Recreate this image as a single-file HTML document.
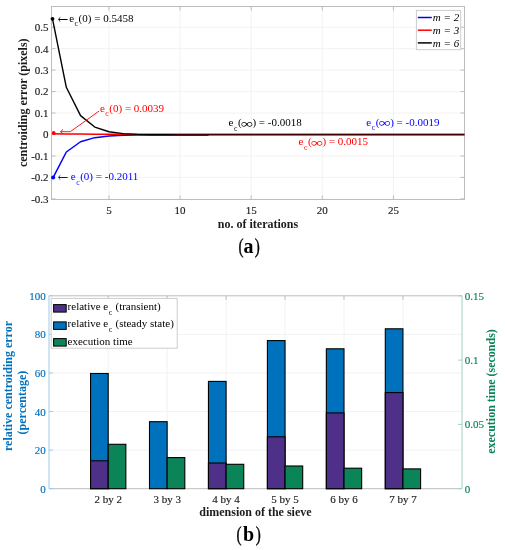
<!DOCTYPE html>
<html lang="en">
<head>
<meta charset="utf-8">
<title>Figure</title>
<style>
html,body{margin:0;padding:0;background:#fff;}
body{width:505px;height:550px;overflow:hidden;}
svg text{white-space:pre;}
</style>
</head>
<body>
<svg width="505" height="550" viewBox="0 0 505 550" style="display:block;font-family:'Liberation Serif', serif">
<rect x="0" y="0" width="505" height="550" fill="#ffffff"/>
<g stroke="#f2f2f2" stroke-width="1" fill="none">
<line x1="108.98" y1="6.50" x2="108.98" y2="199.50"/>
<line x1="180.09" y1="6.50" x2="180.09" y2="199.50"/>
<line x1="251.19" y1="6.50" x2="251.19" y2="199.50"/>
<line x1="322.29" y1="6.50" x2="322.29" y2="199.50"/>
<line x1="393.40" y1="6.50" x2="393.40" y2="199.50"/>
<line x1="51.50" y1="177.42" x2="464.50" y2="177.42"/>
<line x1="51.50" y1="155.96" x2="464.50" y2="155.96"/>
<line x1="51.50" y1="134.50" x2="464.50" y2="134.50"/>
<line x1="51.50" y1="113.04" x2="464.50" y2="113.04"/>
<line x1="51.50" y1="91.58" x2="464.50" y2="91.58"/>
<line x1="51.50" y1="70.12" x2="464.50" y2="70.12"/>
<line x1="51.50" y1="48.66" x2="464.50" y2="48.66"/>
<line x1="51.50" y1="27.20" x2="464.50" y2="27.20"/>
</g>
<g stroke="#bdbdbd" stroke-width="1" fill="none">
<rect x="51.50" y="6.50" width="413.00" height="193.00"/>
<line x1="108.98" y1="199.50" x2="108.98" y2="195.50"/>
<line x1="108.98" y1="6.50" x2="108.98" y2="10.50"/>
<line x1="180.09" y1="199.50" x2="180.09" y2="195.50"/>
<line x1="180.09" y1="6.50" x2="180.09" y2="10.50"/>
<line x1="251.19" y1="199.50" x2="251.19" y2="195.50"/>
<line x1="251.19" y1="6.50" x2="251.19" y2="10.50"/>
<line x1="322.29" y1="199.50" x2="322.29" y2="195.50"/>
<line x1="322.29" y1="6.50" x2="322.29" y2="10.50"/>
<line x1="393.40" y1="199.50" x2="393.40" y2="195.50"/>
<line x1="393.40" y1="6.50" x2="393.40" y2="10.50"/>
<line x1="51.50" y1="198.88" x2="55.50" y2="198.88"/>
<line x1="464.50" y1="198.88" x2="460.50" y2="198.88"/>
<line x1="51.50" y1="177.42" x2="55.50" y2="177.42"/>
<line x1="464.50" y1="177.42" x2="460.50" y2="177.42"/>
<line x1="51.50" y1="155.96" x2="55.50" y2="155.96"/>
<line x1="464.50" y1="155.96" x2="460.50" y2="155.96"/>
<line x1="51.50" y1="134.50" x2="55.50" y2="134.50"/>
<line x1="464.50" y1="134.50" x2="460.50" y2="134.50"/>
<line x1="51.50" y1="113.04" x2="55.50" y2="113.04"/>
<line x1="464.50" y1="113.04" x2="460.50" y2="113.04"/>
<line x1="51.50" y1="91.58" x2="55.50" y2="91.58"/>
<line x1="464.50" y1="91.58" x2="460.50" y2="91.58"/>
<line x1="51.50" y1="70.12" x2="55.50" y2="70.12"/>
<line x1="464.50" y1="70.12" x2="460.50" y2="70.12"/>
<line x1="51.50" y1="48.66" x2="55.50" y2="48.66"/>
<line x1="464.50" y1="48.66" x2="460.50" y2="48.66"/>
<line x1="51.50" y1="27.20" x2="55.50" y2="27.20"/>
<line x1="464.50" y1="27.20" x2="460.50" y2="27.20"/>
</g>
<polyline points="53.10,177.60 66.32,152.01 80.54,141.75 94.76,137.64 108.98,136.00 123.20,135.35 137.42,135.08 151.64,134.98 165.87,134.94 180.09,134.92 194.31,134.91 208.53,134.91" fill="none" stroke="#0000ff" stroke-width="1.5" stroke-linejoin="round"/>
<polyline points="52.10,133.66 66.32,133.97 80.54,134.10 94.76,134.15 108.98,134.16 123.20,134.17 137.42,134.18 151.64,134.18 165.87,134.18 180.09,134.18 194.31,134.18 208.53,134.18 222.75,134.18 236.97,134.18 251.19,134.18 265.41,134.18 279.63,134.18 293.85,134.18 308.07,134.18 322.29,134.18 336.51,134.18 350.73,134.18 364.96,134.18 379.18,134.18 393.40,134.18 407.62,134.18 421.84,134.18 436.06,134.18 450.28,134.18 464.50,134.18" fill="none" stroke="#ff0000" stroke-width="1.5" stroke-linejoin="round"/>
<polyline points="52.50,18.85 66.32,87.29 80.54,115.61 94.76,127.08 108.98,131.72 123.20,133.61 137.42,134.37 151.64,134.68 165.87,134.80 180.09,134.85 194.31,134.87 208.53,134.88 222.75,134.88 236.97,134.89 251.19,134.89 265.41,134.89 279.63,134.89 293.85,134.89 308.07,134.89 322.29,134.89 336.51,134.89 350.73,134.89 364.96,134.89 379.18,134.89 393.40,134.89 407.62,134.89 421.84,134.89 436.06,134.89 450.28,134.89 464.50,134.89" fill="none" stroke="#000000" stroke-width="1.4" stroke-linejoin="round"/>
<circle cx="52.5" cy="18.85" r="1.9" fill="#000"/>
<circle cx="53.7" cy="133.0" r="1.9" fill="#f00"/>
<circle cx="53.1" cy="177.6" r="2.0" fill="#00f"/>
<g font-size="11" fill="#1c1c1c" stroke="#1c1c1c" stroke-width="0.15">
<text x="108.98" y="213.6" text-anchor="middle">5</text>
<text x="180.09" y="213.6" text-anchor="middle">10</text>
<text x="251.19" y="213.6" text-anchor="middle">15</text>
<text x="322.29" y="213.6" text-anchor="middle">20</text>
<text x="393.40" y="213.6" text-anchor="middle">25</text>
<text x="48.6" y="202.78" text-anchor="end">-0.3</text>
<text x="48.6" y="181.32" text-anchor="end">-0.2</text>
<text x="48.6" y="159.86" text-anchor="end">-0.1</text>
<text x="48.6" y="138.40" text-anchor="end">0</text>
<text x="48.6" y="116.94" text-anchor="end">0.1</text>
<text x="48.6" y="95.48" text-anchor="end">0.2</text>
<text x="48.6" y="74.02" text-anchor="end">0.3</text>
<text x="48.6" y="52.56" text-anchor="end">0.4</text>
<text x="48.6" y="31.10" text-anchor="end">0.5</text>
</g>
<text x="258.0" y="227.5" text-anchor="middle" font-size="12" font-weight="bold" fill="#1c1c1c">no. of iterations</text>
<text transform="translate(27.2,102.7) rotate(-90)" text-anchor="middle" font-size="12" font-weight="bold" fill="#1c1c1c">centroiding error (pixels)</text>
<text transform="translate(57.30,22.70) scale(0.84,1)" font-size="13.5" fill="#000" style="font-family:'DejaVu Math TeX Gyre', 'DejaVu Serif', serif">←</text>
<text x="69.20" y="21.50" font-size="11" fill="#000">e<tspan dx="0.5" dy="4.8" font-size="7.7">c</tspan><tspan dx="0.6" dy="-4.8">(0) = 0.5458</tspan></text>
<text transform="translate(57.30,181.00) scale(0.84,1)" font-size="13.5" fill="#00f" style="font-family:'DejaVu Math TeX Gyre', 'DejaVu Serif', serif">←</text>
<text x="70.80" y="179.80" font-size="11" fill="#00f">e<tspan dx="0.5" dy="4.8" font-size="7.7">c</tspan><tspan dx="0.6" dy="-4.8">(0) = -0.2011</tspan></text>
<text x="99.90" y="111.50" font-size="11" fill="#f00">e<tspan dx="0.5" dy="4.8" font-size="7.7">c</tspan><tspan dx="0.6" dy="-4.8">(0) = 0.0039</tspan></text>
<text x="228.50" y="126.40" font-size="11" fill="#000">e<tspan dx="0.5" dy="4.8" font-size="7.7">c</tspan><tspan dx="0.6" dy="-4.8">(</tspan></text>
<text transform="translate(240.65,128.20) scale(1.32,1)" font-size="13" fill="#000">∞</text>
<text x="252.40" y="126.40" font-size="11" fill="#000">) = -0.0018</text>
<text x="366.30" y="125.60" font-size="11" fill="#00f">e<tspan dx="0.5" dy="4.8" font-size="7.7">c</tspan><tspan dx="0.6" dy="-4.8">(</tspan></text>
<text transform="translate(378.45,127.40) scale(1.32,1)" font-size="13" fill="#00f">∞</text>
<text x="390.20" y="125.60" font-size="11" fill="#00f">) = -0.0019</text>
<text x="298.50" y="145.40" font-size="11" fill="#f00">e<tspan dx="0.5" dy="4.8" font-size="7.7">c</tspan><tspan dx="0.6" dy="-4.8">(</tspan></text>
<text transform="translate(310.65,147.20) scale(1.32,1)" font-size="13" fill="#f00">∞</text>
<text x="322.40" y="145.40" font-size="11" fill="#f00">) = 0.0015</text>
<path d="M99.2 111.0 L70.3 131.7 L60.5 131.7 M63 129.4 L60.5 131.7 L63 134" fill="none" stroke="#f00" stroke-width="0.9"/>
<rect x="416.4" y="10.4" width="44.3" height="39.3" fill="#fff" stroke="#cdcdcd" stroke-width="1"/>
<line x1="417.8" y1="17.50" x2="431.8" y2="17.50" stroke="#0000ff" stroke-width="1.5"/>
<text x="432.8" y="21.20" font-size="11" font-style="italic" fill="#000">m = 2</text>
<line x1="417.8" y1="30.20" x2="431.8" y2="30.20" stroke="#ff0000" stroke-width="1.5"/>
<text x="432.8" y="33.90" font-size="11" font-style="italic" fill="#000">m = 3</text>
<line x1="417.8" y1="42.90" x2="431.8" y2="42.90" stroke="#000000" stroke-width="1.5"/>
<text x="432.8" y="46.60" font-size="11" font-style="italic" fill="#000">m = 6</text>
<text transform="translate(238.6,252.5) scale(0.76,1)" font-size="20" fill="#000" stroke="#000" stroke-width="0.35">(</text>
<text x="243.6" y="252.5" font-size="20" font-weight="bold" fill="#000">a</text>
<text transform="translate(254.7,252.5) scale(0.76,1)" font-size="20" fill="#000" stroke="#000" stroke-width="0.35">)</text>
<g stroke="#f2f2f2" stroke-width="1" fill="none">
<line x1="108.20" y1="295.80" x2="108.20" y2="488.70"/>
<line x1="167.15" y1="295.80" x2="167.15" y2="488.70"/>
<line x1="226.10" y1="295.80" x2="226.10" y2="488.70"/>
<line x1="285.05" y1="295.80" x2="285.05" y2="488.70"/>
<line x1="344.00" y1="295.80" x2="344.00" y2="488.70"/>
<line x1="402.95" y1="295.80" x2="402.95" y2="488.70"/>
<line x1="49.00" y1="450.12" x2="462.00" y2="450.12"/>
<line x1="49.00" y1="411.54" x2="462.00" y2="411.54"/>
<line x1="49.00" y1="372.96" x2="462.00" y2="372.96"/>
<line x1="49.00" y1="334.38" x2="462.00" y2="334.38"/>
</g>
<g stroke="#bdbdbd" stroke-width="1" fill="none">
<line x1="49.00" y1="295.80" x2="462.00" y2="295.80"/>
<line x1="49.00" y1="488.70" x2="462.00" y2="488.70"/>
<line x1="108.20" y1="488.70" x2="108.20" y2="484.70"/>
<line x1="108.20" y1="295.80" x2="108.20" y2="299.80"/>
<line x1="167.15" y1="488.70" x2="167.15" y2="484.70"/>
<line x1="167.15" y1="295.80" x2="167.15" y2="299.80"/>
<line x1="226.10" y1="488.70" x2="226.10" y2="484.70"/>
<line x1="226.10" y1="295.80" x2="226.10" y2="299.80"/>
<line x1="285.05" y1="488.70" x2="285.05" y2="484.70"/>
<line x1="285.05" y1="295.80" x2="285.05" y2="299.80"/>
<line x1="344.00" y1="488.70" x2="344.00" y2="484.70"/>
<line x1="344.00" y1="295.80" x2="344.00" y2="299.80"/>
<line x1="402.95" y1="488.70" x2="402.95" y2="484.70"/>
<line x1="402.95" y1="295.80" x2="402.95" y2="299.80"/>
</g>
<g stroke="#9fcbe9" stroke-width="1" fill="none">
<line x1="49.00" y1="295.80" x2="49.00" y2="488.70"/>
<line x1="49.00" y1="488.70" x2="53.00" y2="488.70"/>
<line x1="49.00" y1="450.12" x2="53.00" y2="450.12"/>
<line x1="49.00" y1="411.54" x2="53.00" y2="411.54"/>
<line x1="49.00" y1="372.96" x2="53.00" y2="372.96"/>
<line x1="49.00" y1="334.38" x2="53.00" y2="334.38"/>
<line x1="49.00" y1="295.80" x2="53.00" y2="295.80"/>
</g>
<g stroke="#9fd3bd" stroke-width="1" fill="none">
<line x1="462.00" y1="295.80" x2="462.00" y2="488.70"/>
<line x1="462.00" y1="488.70" x2="458.00" y2="488.70"/>
<line x1="462.00" y1="424.40" x2="458.00" y2="424.40"/>
<line x1="462.00" y1="360.10" x2="458.00" y2="360.10"/>
<line x1="462.00" y1="295.80" x2="458.00" y2="295.80"/>
</g>
<g stroke="#000" stroke-width="1.1" stroke-linejoin="miter">
<rect x="90.55" y="373.50" width="17.65" height="115.20" fill="#0072bd"/>
<rect x="90.55" y="460.80" width="17.65" height="27.90" fill="#4f3089"/>
<rect x="108.20" y="444.30" width="17.65" height="44.40" fill="#0b8457"/>
<rect x="149.50" y="421.70" width="17.65" height="67.00" fill="#0072bd"/>
<rect x="167.15" y="457.60" width="17.65" height="31.10" fill="#0b8457"/>
<rect x="208.45" y="381.40" width="17.65" height="107.30" fill="#0072bd"/>
<rect x="208.45" y="463.00" width="17.65" height="25.70" fill="#4f3089"/>
<rect x="226.10" y="464.30" width="17.65" height="24.40" fill="#0b8457"/>
<rect x="267.40" y="340.60" width="17.65" height="148.10" fill="#0072bd"/>
<rect x="267.40" y="436.80" width="17.65" height="51.90" fill="#4f3089"/>
<rect x="285.05" y="466.00" width="17.65" height="22.70" fill="#0b8457"/>
<rect x="326.35" y="348.80" width="17.65" height="139.90" fill="#0072bd"/>
<rect x="326.35" y="412.90" width="17.65" height="75.80" fill="#4f3089"/>
<rect x="344.00" y="468.20" width="17.65" height="20.50" fill="#0b8457"/>
<rect x="385.30" y="328.80" width="17.65" height="159.90" fill="#0072bd"/>
<rect x="385.30" y="392.60" width="17.65" height="96.10" fill="#4f3089"/>
<rect x="402.95" y="468.90" width="17.65" height="19.80" fill="#0b8457"/>
</g>
<g font-size="11" fill="#1c1c1c" stroke="#1c1c1c" stroke-width="0.15">
<text x="108.20" y="502.8" text-anchor="middle">2 by 2</text>
<text x="167.15" y="502.8" text-anchor="middle">3 by 3</text>
<text x="226.10" y="502.8" text-anchor="middle">4 by 4</text>
<text x="285.05" y="502.8" text-anchor="middle">5 by 5</text>
<text x="344.00" y="502.8" text-anchor="middle">6 by 6</text>
<text x="402.95" y="502.8" text-anchor="middle">7 by 7</text>
</g>
<g font-size="11" fill="#0072bd" stroke="#0072bd" stroke-width="0.15">
<text x="45.8" y="492.70" text-anchor="end">0</text>
<text x="45.8" y="454.12" text-anchor="end">20</text>
<text x="45.8" y="415.54" text-anchor="end">40</text>
<text x="45.8" y="376.96" text-anchor="end">60</text>
<text x="45.8" y="338.38" text-anchor="end">80</text>
<text x="45.8" y="299.80" text-anchor="end">100</text>
</g>
<g font-size="11" fill="#0b8457" stroke="#0b8457" stroke-width="0.15">
<text x="464.8" y="492.70">0</text>
<text x="464.8" y="428.40">0.05</text>
<text x="464.8" y="364.10">0.1</text>
<text x="464.8" y="299.80">0.15</text>
</g>
<text x="255.4" y="516.3" text-anchor="middle" font-size="12" font-weight="bold" fill="#1c1c1c">dimension of the sieve</text>
<text transform="translate(12.3,386) rotate(-90)" text-anchor="middle" font-size="12" font-weight="bold" fill="#0072bd">relative centroiding error</text>
<text transform="translate(26.4,402.6) rotate(-90)" text-anchor="middle" font-size="12" font-weight="bold" fill="#0072bd">(percentage)</text>
<text transform="translate(495.4,391.5) rotate(-90)" text-anchor="middle" font-size="12" font-weight="bold" fill="#0b8457">execution time (seconds)</text>
<rect x="51.2" y="298.4" width="126.0" height="49.8" fill="#fff" stroke="#cdcdcd" stroke-width="1"/>
<rect x="53.6" y="304.60" width="12.6" height="7.5" fill="#4f3089" stroke="#000" stroke-width="1"/>
<text x="67.6" y="309.90" font-size="11" fill="#000">relative e<tspan dx="0.5" dy="4.8" font-size="7.7">c</tspan><tspan dx="0.6" dy="-4.8"> (transient)</tspan></text>
<rect x="53.6" y="321.90" width="12.6" height="7.5" fill="#0072bd" stroke="#000" stroke-width="1"/>
<text x="67.6" y="326.90" font-size="11" fill="#000">relative e<tspan dx="0.5" dy="4.8" font-size="7.7">c</tspan><tspan dx="0.6" dy="-4.8"> (steady state)</tspan></text>
<rect x="53.6" y="338.60" width="12.6" height="7.5" fill="#0b8457" stroke="#000" stroke-width="1"/>
<text x="67.6" y="344.90" font-size="11" fill="#000">execution time</text>
<text transform="translate(236.4,540.6) scale(0.76,1)" font-size="20" fill="#000" stroke="#000" stroke-width="0.35">(</text>
<text x="242.9" y="540.6" font-size="20" font-weight="bold" fill="#000">b</text>
<text transform="translate(255.8,540.6) scale(0.76,1)" font-size="20" fill="#000" stroke="#000" stroke-width="0.35">)</text>
</svg>
</body>
</html>
